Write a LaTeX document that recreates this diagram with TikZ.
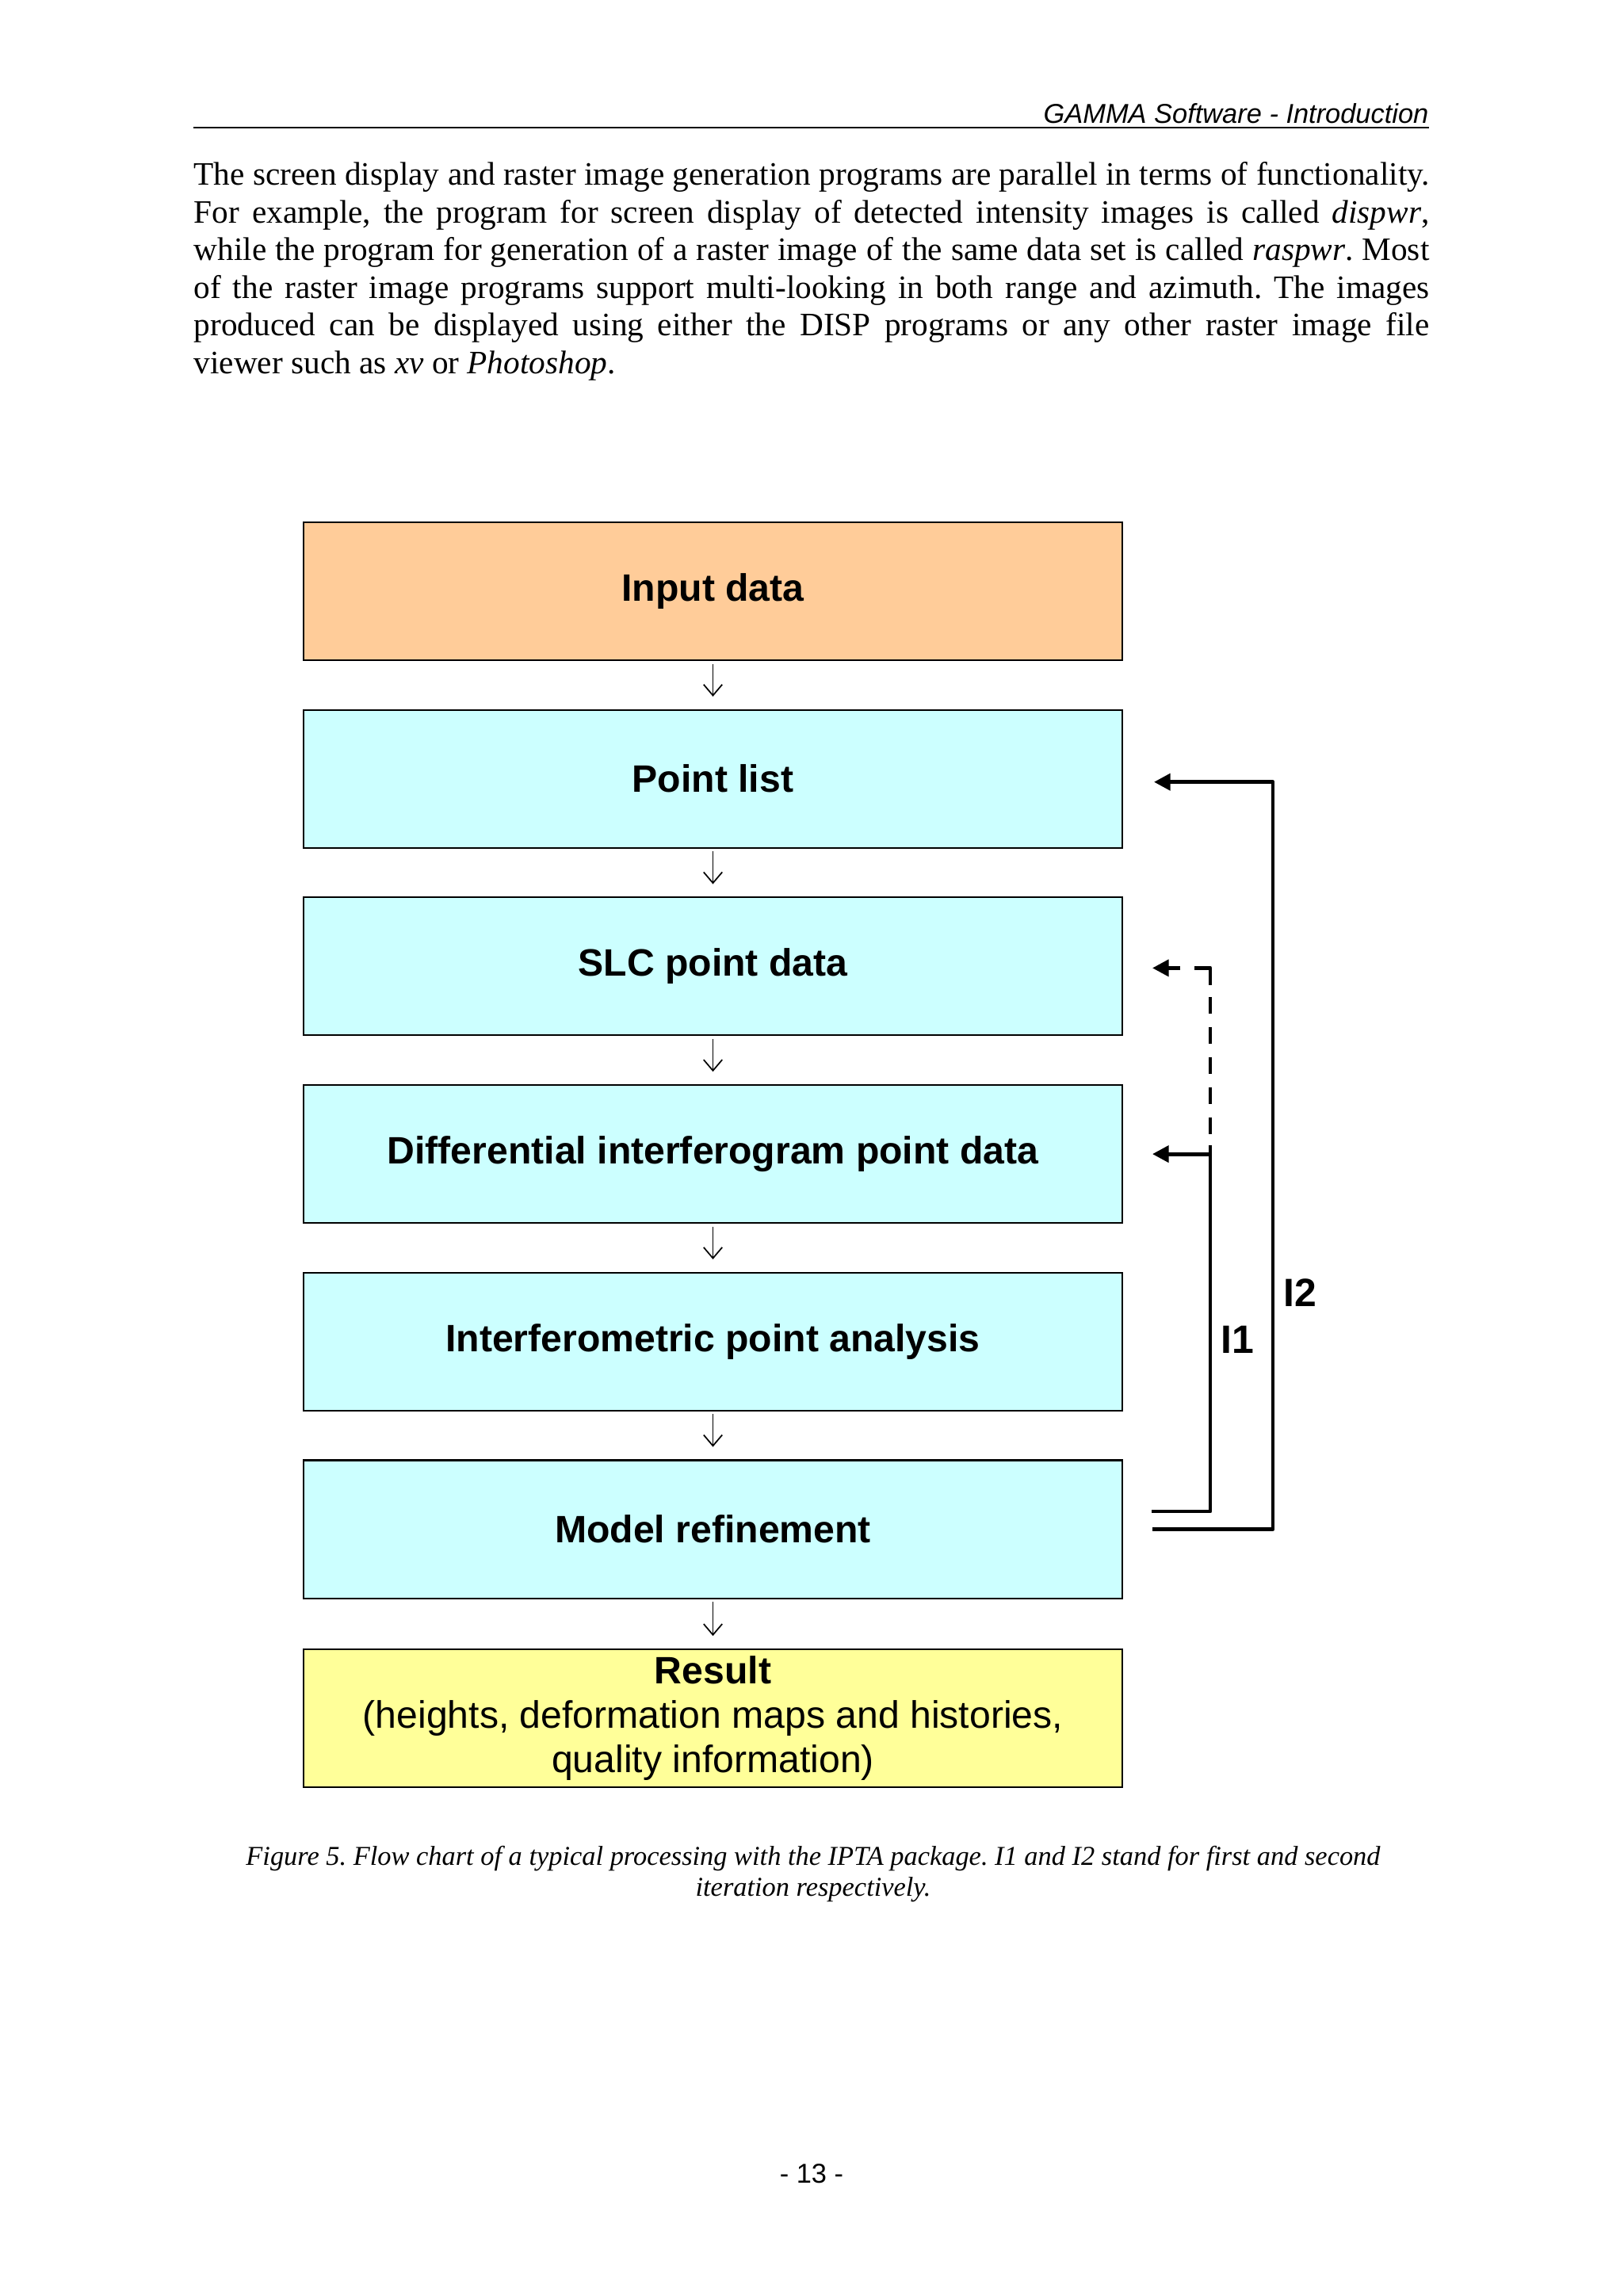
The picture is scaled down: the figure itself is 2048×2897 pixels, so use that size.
\documentclass[tikz,border=0pt]{standalone}
\usepackage{fontspec}
\setmainfont{Liberation Serif}
\newfontfamily\arialfont{Liberation Sans}
\usetikzlibrary{arrows.meta,calc}
\definecolor{peach}{HTML}{FFCC99}
\definecolor{lcyan}{HTML}{CCFFFF}
\definecolor{lyellow}{HTML}{FFFF99}
\frenchspacing
\begin{document}
\frenchspacing
\begin{tikzpicture}[x=0.29066pt,y=-0.29066pt,
  box/.style={draw=black, line width=0.6pt, minimum width=300.2pt, minimum height=50.6pt,
    inner sep=0pt, font=\arialfont\bfseries\fontsize{14}{16.8}\selectfont},
  down/.style={line width=0.45pt, -{Straight Barb[length=4pt,width=6.8pt,line width=0.5pt]},
    shorten <=1pt, shorten >=4.6pt},
  loopline/.style={line width=1.4pt, line join=round},
  tip/.style={-{Triangle[length=6pt,width=6pt]}},
  lbl/.style={font=\arialfont\bfseries\fontsize{14.5}{17}\selectfont, inner sep=0pt}
]
\useasboundingbox (0,0) rectangle (2048,2897);
\fill[white] (0,0) rectangle (2048,2897);

% header
\node[anchor=base east, inner sep=0pt, font=\arialfont\itshape\fontsize{10}{12}\selectfont] (hdr) at (1803,155.5) {GAMMA Software - Introduction};
\draw[line width=0.6pt] (244,160.6) -- (1803,160.6);

% body paragraph
\node[anchor=north west, inner sep=0pt, text width=453.1pt, align=justify,
  font=\frenchspacing\fontsize{12}{13.8}\selectfont] (para) at (244,199.8) {\strut The screen display and raster image generation programs are parallel in terms of functionality.\linebreak
For example, the program for screen display of detected intensity images is called \emph{dispwr},\linebreak
while the program for generation of a raster image of the same data set is called \emph{raspwr}. Most\linebreak
of the raster image programs support multi-looking in both range and azimuth. The images\linebreak
produced can be displayed using either the DISP programs or any other raster image file\linebreak
viewer such as \emph{xv} or \emph{Photoshop}.};

% boxes
\node[box, fill=peach] (b1) at (899.5,746) {\raisebox{-1pt}{Input data}};
\node[box, fill=lcyan] (b2) at (899.5,982.7) {Point list};
\node[box, fill=lcyan] (b3) at (899.5,1219.4) {SLC point data};
\node[box, fill=lcyan] (b4) at (899.5,1456.1) {Differential interferogram point data};
\node[box, fill=lcyan] (b5) at (899.5,1692.8) {Interferometric point analysis};
\node[box, fill=lcyan] (b6) at (899.5,1929.5) {Model refinement};
\node[box, fill=lyellow, align=center, font=\arialfont\fontsize{14}{16.3}\selectfont] (b7) at (899.5,2168)
  {{\bfseries Result}\\(heights, deformation maps and histories,\\quality information)};

\foreach \a/\b in {b1/b2,b2/b3,b3/b4,b4/b5,b5/b6,b6/b7}
  \draw[down] (\a.south) -- (\b.north);

% iteration loops
\coordinate (i2s) at ($(b6.east)+(37,0)$);
\coordinate (i2c) at (1606,1929.5);
\coordinate (i2t) at ($(b2.east)+(39,4)$);
\draw[loopline, tip] (i2s) -- (i2c) |- (i2t);

\coordinate (i1s) at ($(b6.east)+(36,-22.5)$);
\coordinate (i1c) at (1527,1456.1);
\coordinate (i1t) at ($(b4.east)+(37,0)$);
\draw[loopline, tip] (i1s) -| (i1c) -- (i1t);
\draw[loopline] (i1c) -- (1527,1445);

\coordinate (i1dt) at ($(b3.east)+(37,2)$);
\draw[loopline, tip] (1489,1221.4) -- (i1dt);
\draw[loopline] (1507,1221.4) -- (1527,1221.4) -- (1527,1243);
\draw[loopline, dash pattern=on 6.1pt off 4.94pt] (1527,1258) -- (1527,1432);

\node[lbl] (l1) at (1561,1690) {I1};
\node[lbl] (l2) at (1640,1631) {I2};

% caption
\node[anchor=base, inner sep=0pt, font=\frenchspacing\itshape\fontsize{10}{11.3}\selectfont] (cap1) at (1026,2353)
  {Figure 5. Flow chart of a typical processing with the IPTA package. I1 and I2 stand for first and second};
\node[anchor=base, inner sep=0pt, font=\itshape\fontsize{10}{11.3}\selectfont] (cap2) at (1026,2392)
  {iteration respectively.};

% page number
\node[anchor=base, inner sep=0pt, font=\arialfont\fontsize{10}{12}\selectfont] (pg) at (1024,2754) {- 13 -};
\end{tikzpicture}
\end{document}
